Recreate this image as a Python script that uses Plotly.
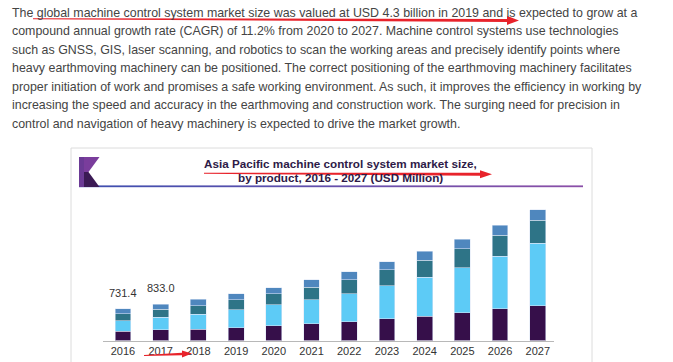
import plotly.graph_objects as go

W, H = 673, 362

years = ["2016", "2017", "2018", "2019", "2020", "2021", "2022",
         "2023", "2024", "2025", "2026", "2027"]
seg_dark = [215, 247, 258, 290, 336, 382, 427, 503, 556, 633, 725, 793]
seg_light = [241, 279, 343, 411, 487, 549, 640, 748, 892, 1029, 1205, 1433]
seg_teal = [161, 185, 199, 229, 245, 290, 327, 366, 389, 434, 473, 519]
seg_blue = [114.4, 122, 144, 137, 137, 167, 176, 183, 206, 222, 235, 245]
series_names = ["Total Stations", "GNSS", "Laser Scanners", "Others"]
label_years = ["2016", "2017"]
label_texts = ["731.4", "833.0"]

title_lines = ["Asia Pacific machine control system market size,",
               "by product, 2016 - 2027 (USD Million)"]

paragraph = [
    "The global machine control system market size was valued at USD 4.3 billion in 2019 and is expected to grow at a",
    "compound annual growth rate (CAGR) of 11.2% from 2020 to 2027. Machine control systems use technologies",
    "such as GNSS, GIS, laser scanning, and robotics to scan the working areas and precisely identify points where",
    "heavy earthmoving machinery can be positioned. The correct positioning of the earthmoving machinery facilitates",
    "proper initiation of work and promises a safe working environment. As such, it improves the efficiency in working by",
    "increasing the speed and accuracy in the earthmoving and construction work. The surging need for precision in",
    "control and navigation of heavy machinery is expected to drive the market growth.",
]


def px(x):
    return x / W


def py(y):
    return 1 - y / H


colors = ["#360f4a", "#5dcbf6", "#2e7487", "#4f87be"]
fig = go.Figure()
for name, vals, c in zip(series_names, [seg_dark, seg_light, seg_teal, seg_blue], colors):
    fig.add_trace(go.Bar(x=years, y=vals, name=name, marker_color=c,
                         marker_line_color="rgba(220,230,245,0.9)", marker_line_width=0.6,
                         width=0.42))

totals = [a + b + c + d for a, b, c, d in zip(seg_dark, seg_light, seg_teal, seg_blue)]

annotations = []
for yr, txt in zip(label_years, label_texts):
    i = years.index(yr)
    annotations.append(dict(x=i, y=totals[i], xref="x", yref="y", text=txt,
                            showarrow=False, yanchor="middle", yshift=16,
                            font=dict(family="Liberation Sans, Arial", size=11, color="#333333")))

# paragraph text
line_y = [12.7, 31.2, 49.8, 68.4, 87.0, 105.5, 124.1]
for t, yy in zip(paragraph, line_y):
    annotations.append(dict(x=px(10), y=py(yy), xref="paper", yref="paper", text=t,
                            showarrow=False, xanchor="left", yanchor="middle",
                            font=dict(family="Liberation Sans, Arial", size=12.4, color="#444444")))

# chart title
for t, yy in zip(title_lines, [164, 177.5]):
    annotations.append(dict(x=px(340), y=py(yy), xref="paper", yref="paper",
                            text="<b>" + t + "</b>", showarrow=False,
                            xanchor="center", yanchor="middle",
                            font=dict(family="Liberation Sans, Arial", size=11.7, color="#2e1a47")))

shapes = []
# chart frame
shapes.append(dict(type="rect", xref="paper", yref="paper", x0=px(71), x1=px(592),
                   y0=py(380), y1=py(148), line=dict(color="#dcdcdc", width=1),
                   fillcolor="rgba(0,0,0,0)", layer="below"))
# title underline (blue to purple)
n = 24
x_start, x_end = 79, 583
for i in range(n):
    t = i / (n - 1)
    r = int(0x3f + (0x8a - 0x3f) * t)
    g = 0x4f
    b = int(0xb0 + (0xa8 - 0xb0) * t)
    xa = x_start + (x_end - x_start) * i / n
    xb = x_start + (x_end - x_start) * (i + 1) / n
    shapes.append(dict(type="line", xref="paper", yref="paper", x0=px(xa), x1=px(xb),
                       y0=py(186.3), y1=py(186.3), line=dict(color=f"rgb({r},{g},{b})", width=1.8)))


def poly(pts):
    return "M " + " L ".join(f"{px(a):.5f},{py(b):.5f}" for a, b in pts) + " Z"


# logo
shapes.append(dict(type="path", xref="paper", yref="paper",
                   path=poly([(79, 157), (99.5, 157), (88.5, 172), (79, 172)]),
                   fillcolor="#7a3d9c", line=dict(width=0)))
shapes.append(dict(type="path", xref="paper", yref="paper",
                   path=poly([(79, 172), (88.5, 172), (99.5, 187), (79, 187)]),
                   fillcolor="#3b1a55", line=dict(width=0)))
shapes.append(dict(type="path", xref="paper", yref="paper",
                   path=poly([(79, 157), (84, 157), (84, 187), (79, 187)]),
                   fillcolor="#6b3a95", line=dict(width=0)))


# red arrows
def arrow(x0, y0, x1, y1, head_len, head_half, w0, w1):
    hx = x1 - head_len
    hy = y0 + (y1 - y0) * (hx - x0) / (x1 - x0)
    pts = [(x0, y0 - w0 / 2), (hx, hy - w1 / 2), (hx, hy - head_half), (x1, y1),
           (hx, hy + head_half), (hx, hy + w1 / 2), (x0, y0 + w0 / 2)]
    shapes.append(dict(type="path", xref="paper", yref="paper", path=poly(pts),
                       fillcolor="#e8232b", line=dict(width=0)))


arrow(33, 18.8, 519, 20.5, 12, 4.5, 1.0, 3.0)
arrow(204, 173.3, 492, 174.3, 12, 4.0, 1.0, 3.0)
arrow(144, 355.5, 192, 353.5, 10, 3.5, 1.0, 2.5)

x_lo, x_hi = 103, 554
y_bot, y_top = 340.5, 200
px_per_unit = 22.86
fig.update_layout(
    width=W, height=H, barmode="stack", showlegend=False,
    margin=dict(l=0, r=0, t=0, b=0),
    paper_bgcolor="white", plot_bgcolor="white",
    xaxis=dict(domain=[px(x_lo), px(x_hi)], range=[-0.53, 11.43], type="category",
               showline=True, linecolor="#b8b8b8", linewidth=1.2, ticks="",
               showgrid=False, automargin=False,
               tickfont=dict(family="Liberation Sans, Arial", size=11, color="#333333")),
    yaxis=dict(domain=[py(y_bot), py(y_top)], range=[0, (y_bot - y_top) * px_per_unit],
               visible=False, showgrid=False),
    annotations=annotations, shapes=shapes, bargap=0.58,
)

fig.write_html("out.html", config={"displayModeBar": False},
               post_script="document.body.style.margin='0px';")
